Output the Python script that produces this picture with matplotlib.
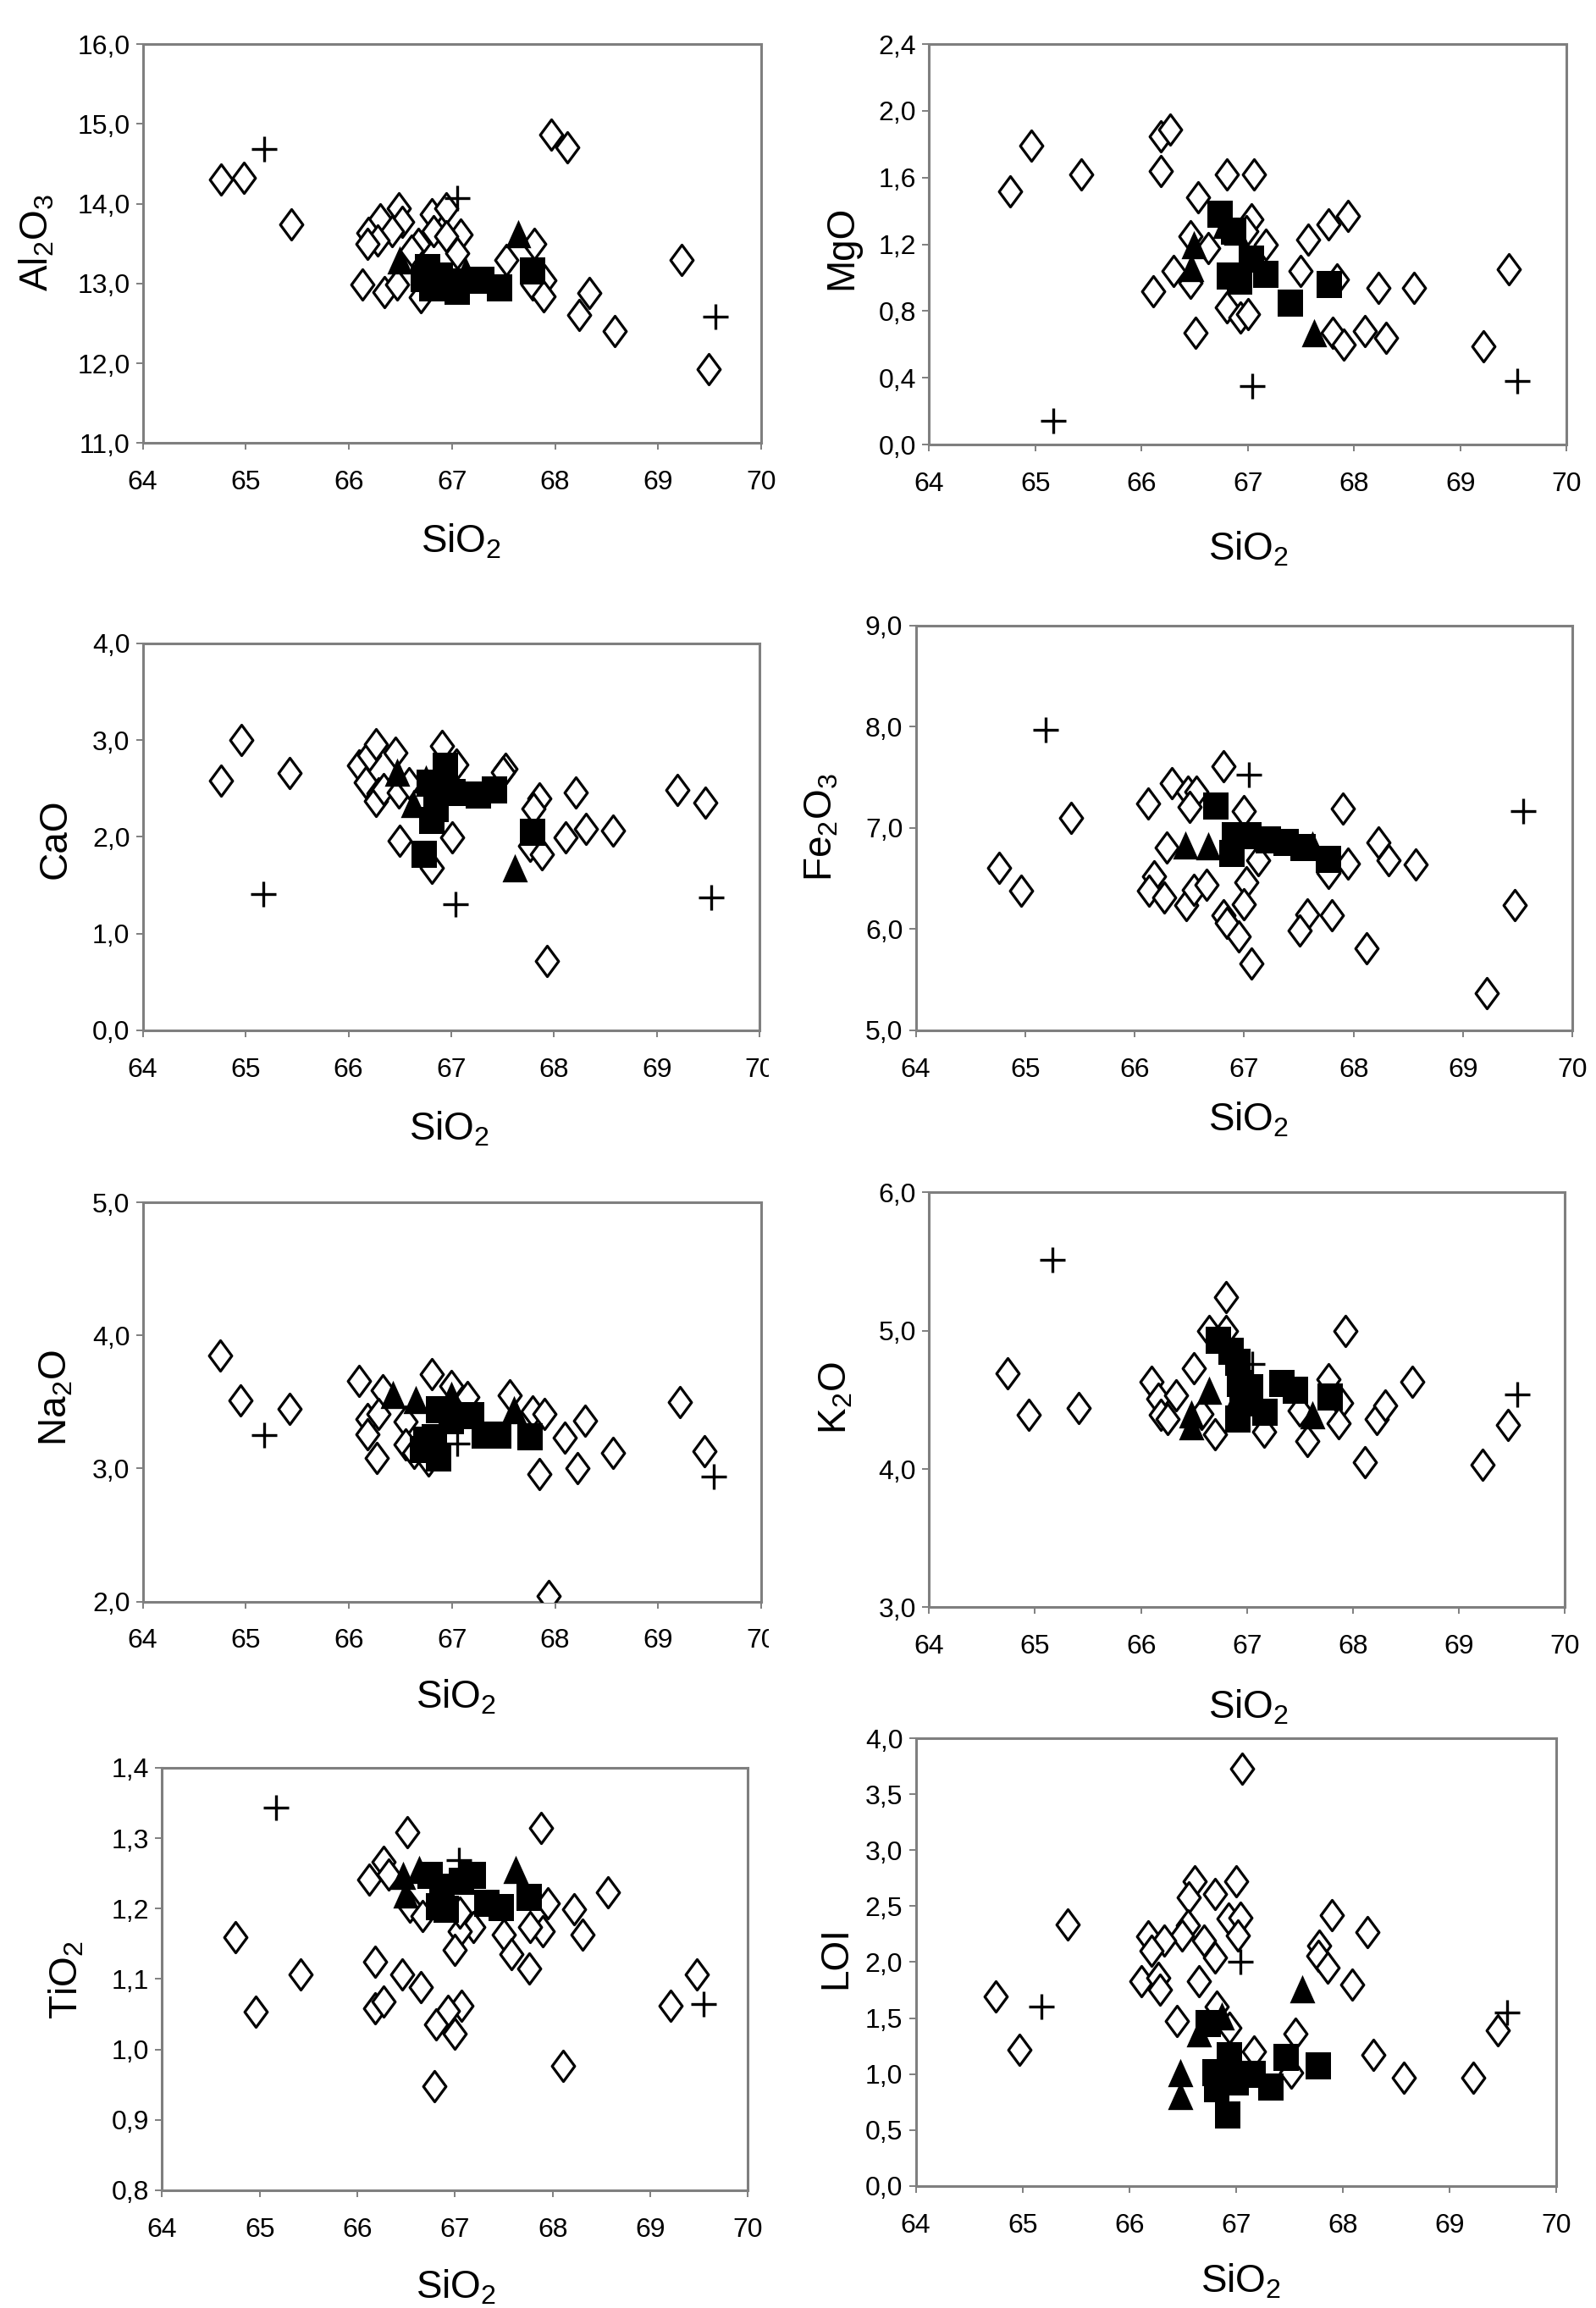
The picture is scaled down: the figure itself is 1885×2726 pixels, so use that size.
import matplotlib
matplotlib.use("Agg")
import matplotlib.pyplot as plt
from matplotlib.path import Path
from matplotlib.ticker import FuncFormatter, MultipleLocator
from matplotlib.transforms import Bbox

plt.rcParams['font.family'] = ['Liberation Sans', 'DejaVu Sans']
plt.rcParams['mathtext.default'] = 'regular'

# ---------------- data (SiO2 vs oxide) ----------------
# Al2O3
al_open_x = [64.76, 64.98, 65.44, 67.96, 68.12, 69.23, 69.49, 66.13, 66.34, 66.47, 66.70, 66.48, 66.30, 66.52, 66.42, 66.19, 66.28, 66.18, 66.80, 66.94, 66.82, 66.67, 66.61, 67.08, 66.94, 67.05, 67.80, 67.53, 67.90, 67.78, 67.89, 68.33, 68.23, 68.58]
al_open_y = [14.30, 14.33, 13.74, 14.87, 14.71, 13.30, 11.93, 12.99, 12.89, 12.99, 12.83, 13.94, 13.80, 13.77, 13.66, 13.64, 13.54, 13.50, 13.87, 13.94, 13.66, 13.50, 13.41, 13.61, 13.59, 13.38, 13.50, 13.30, 13.04, 12.99, 12.84, 12.88, 12.61, 12.40]
al_plus_x = [65.18, 67.05, 69.56]
al_plus_y = [14.69, 14.07, 12.58]
al_tri_x = [66.49, 67.64, 67.13]
al_tri_y = [13.30, 13.62, 13.16]
al_sq_x = [66.76, 66.89, 67.05, 67.05, 66.80, 67.29, 67.46, 67.78, 66.72]
al_sq_y = [13.20, 13.09, 13.02, 12.90, 12.95, 13.04, 12.95, 13.16, 13.06]

# MgO
mg_open_x = [64.76, 64.96, 65.43, 66.18, 66.27, 66.18, 66.80, 67.06, 66.53, 66.46, 67.03, 66.99, 67.17, 66.63, 67.57, 67.76, 67.94, 66.30, 66.46, 66.11, 67.50, 67.84, 68.23, 68.56, 69.46, 66.80, 66.93, 67.00, 66.51, 67.80, 67.90, 68.10, 68.30, 69.22]
mg_open_y = [1.52, 1.79, 1.62, 1.85, 1.89, 1.64, 1.62, 1.62, 1.48, 1.25, 1.35, 1.28, 1.20, 1.18, 1.23, 1.32, 1.37, 1.04, 0.97, 0.92, 1.04, 0.99, 0.94, 0.94, 1.05, 0.82, 0.76, 0.78, 0.67, 0.67, 0.60, 0.68, 0.64, 0.59]
mg_plus_x = [65.17, 67.04, 69.54]
mg_plus_y = [0.14, 0.35, 0.38]
mg_tri_x = [66.49, 66.47, 66.79, 66.89, 67.62]
mg_tri_y = [1.20, 1.06, 1.32, 1.28, 0.67]
mg_sq_x = [66.74, 66.87, 67.03, 66.83, 66.92, 67.17, 67.40, 67.77]
mg_sq_y = [1.38, 1.28, 1.11, 1.01, 0.98, 1.02, 0.85, 0.96]

# CaO
ca_open_x = [64.76, 64.96, 65.43, 66.10, 66.20, 66.27, 66.46, 66.17, 66.29, 66.27, 66.34, 66.49, 66.50, 66.81, 66.91, 67.05, 67.01, 67.53, 67.50, 67.86, 67.80, 68.21, 68.31, 68.11, 68.57, 67.77, 67.88, 67.93, 69.20, 69.47, 66.59]
ca_open_y = [2.58, 3.00, 2.66, 2.74, 2.84, 2.96, 2.87, 2.56, 2.45, 2.37, 2.49, 2.46, 1.96, 1.68, 2.94, 2.75, 1.99, 2.70, 2.67, 2.40, 2.29, 2.46, 2.08, 1.99, 2.06, 1.91, 1.82, 0.72, 2.48, 2.35, 2.55]
ca_plus_x = [65.17, 67.04, 69.53]
ca_plus_y = [1.41, 1.30, 1.37]
ca_tri_x = [66.47, 66.63, 67.62, 66.75]
ca_tri_y = [2.67, 2.34, 1.68, 2.60]
ca_sq_x = [66.94, 66.79, 66.85, 66.81, 67.02, 67.26, 67.42, 66.74, 67.79]
ca_sq_y = [2.73, 2.55, 2.29, 2.17, 2.46, 2.43, 2.48, 1.82, 2.05]

# Fe2O3
fe_open_x = [64.76, 64.96, 65.42, 66.12, 66.34, 66.49, 66.56, 66.81, 66.50, 66.29, 67.00, 67.90, 68.23, 68.32, 68.57, 67.95, 67.77, 66.18, 66.13, 66.27, 66.47, 66.54, 66.66, 67.02, 67.00, 66.81, 66.84, 66.95, 67.07, 67.58, 67.51, 67.80, 68.12, 69.47, 69.22, 67.13]
fe_open_y = [6.61, 6.38, 7.10, 7.24, 7.44, 7.36, 7.36, 7.61, 7.21, 6.81, 7.17, 7.19, 6.86, 6.68, 6.64, 6.65, 6.56, 6.52, 6.38, 6.31, 6.24, 6.39, 6.44, 6.46, 6.25, 6.14, 6.06, 5.93, 5.66, 6.15, 5.99, 6.14, 5.81, 6.24, 5.37, 6.68]
fe_plus_x = [65.19, 67.04, 69.55]
fe_plus_y = [7.97, 7.53, 7.17]
fe_tri_x = [66.46, 66.67, 67.62]
fe_tri_y = [6.83, 6.82, 6.83]
fe_sq_x = [66.74, 66.91, 67.04, 66.89, 67.22, 67.38, 67.54, 67.77]
fe_sq_y = [7.22, 6.92, 6.92, 6.75, 6.88, 6.86, 6.81, 6.69]

# Na2O
na_open_x = [64.75, 64.95, 65.42, 66.10, 66.33, 66.80, 66.99, 67.15, 67.56, 67.78, 67.90, 66.18, 66.29, 66.18, 66.55, 66.27, 66.55, 66.77, 68.29, 68.09, 68.56, 67.85, 68.22, 69.21, 69.45, 67.94, 66.63]
na_open_y = [3.85, 3.51, 3.45, 3.66, 3.59, 3.71, 3.62, 3.54, 3.55, 3.43, 3.41, 3.37, 3.41, 3.26, 3.35, 3.08, 3.18, 3.06, 3.36, 3.23, 3.12, 2.96, 3.00, 3.50, 3.13, 2.04, 3.12]
na_plus_x = [65.18, 67.05, 69.54]
na_plus_y = [3.25, 3.19, 2.94]
na_tri_x = [66.43, 66.65, 67.60, 66.99]
na_tri_y = [3.56, 3.52, 3.44, 3.55]
na_sq_x = [66.87, 66.99, 66.83, 66.87, 66.71, 67.19, 67.31, 67.45, 67.76, 66.75]
na_sq_y = [3.44, 3.36, 3.23, 3.08, 3.14, 3.40, 3.25, 3.25, 3.24, 3.21]

# K2O
k_open_x = [64.74, 64.94, 65.41, 66.10, 66.16, 66.19, 66.25, 66.33, 66.50, 66.64, 66.80, 66.80, 66.57, 66.70, 67.16, 67.50, 67.57, 67.77, 67.93, 67.89, 67.86, 68.22, 68.30, 68.11, 68.56, 69.22, 69.46]
k_open_y = [4.69, 4.39, 4.44, 4.63, 4.51, 4.39, 4.36, 4.53, 4.73, 5.00, 5.24, 5.00, 4.40, 4.25, 4.27, 4.42, 4.20, 4.65, 5.00, 4.48, 4.33, 4.36, 4.46, 4.05, 4.63, 4.03, 4.32]
k_plus_x = [65.16, 67.05, 69.55]
k_plus_y = [5.51, 4.76, 4.54]
k_tri_x = [66.64, 66.47, 66.47, 67.62, 66.93]
k_tri_y = [4.57, 4.40, 4.31, 4.39, 4.56]
k_sq_x = [66.73, 66.85, 66.91, 66.93, 67.03, 66.91, 67.17, 67.33, 67.46, 67.78, 66.95]
k_sq_y = [4.93, 4.85, 4.77, 4.62, 4.59, 4.36, 4.41, 4.62, 4.57, 4.52, 4.48]

# TiO2
ti_open_x = [64.75, 64.96, 65.42, 66.12, 66.27, 66.32, 66.51, 67.88, 68.57, 67.95, 68.22, 68.31, 67.90, 67.77, 67.50, 67.58, 67.76, 67.19, 67.05, 67.00, 67.05, 66.54, 66.67, 66.18, 66.46, 66.65, 66.18, 66.27, 67.07, 66.93, 66.81, 67.00, 68.11, 66.79, 69.48, 69.21]
ti_open_y = [1.160, 1.054, 1.107, 1.241, 1.267, 1.248, 1.308, 1.315, 1.223, 1.208, 1.199, 1.163, 1.168, 1.174, 1.163, 1.135, 1.115, 1.174, 1.168, 1.141, 1.194, 1.203, 1.190, 1.124, 1.107, 1.089, 1.059, 1.068, 1.062, 1.055, 1.036, 1.022, 0.977, 0.948, 1.107, 1.062]
ti_plus_x = [65.17, 67.04, 69.55]
ti_plus_y = [1.343, 1.269, 1.064]
ti_tri_x = [66.47, 66.63, 66.49, 67.62]
ti_tri_y = [1.247, 1.256, 1.221, 1.256]
ti_sq_x = [66.75, 66.87, 66.83, 67.07, 67.19, 67.33, 67.47, 67.76, 66.91]
ti_sq_y = [1.247, 1.230, 1.203, 1.239, 1.247, 1.208, 1.201, 1.216, 1.199]

# LOI
loi_open_x = [64.75, 64.97, 65.42, 67.06, 66.61, 67.00, 66.80, 66.56, 66.55, 66.93, 67.04, 67.02, 66.49, 66.18, 66.33, 66.21, 66.70, 66.80, 66.11, 66.27, 66.29, 66.65, 67.90, 68.23, 67.78, 67.77, 67.86, 68.09, 66.45, 66.82, 66.94, 67.56, 67.17, 68.29, 68.57, 69.22, 69.45, 67.52]
loi_open_y = [1.69, 1.22, 2.34, 3.73, 2.72, 2.72, 2.61, 2.58, 2.33, 2.39, 2.40, 2.24, 2.24, 2.23, 2.19, 2.10, 2.19, 2.04, 1.83, 1.86, 1.75, 1.83, 2.42, 2.27, 2.15, 2.06, 1.95, 1.80, 1.47, 1.60, 1.41, 1.36, 1.20, 1.17, 0.97, 0.97, 1.39, 1.01]
loi_plus_x = [65.18, 67.04, 69.54]
loi_plus_y = [1.60, 2.00, 1.55]
loi_tri_x = [66.65, 66.87, 66.48, 66.48, 67.62]
loi_tri_y = [1.37, 1.52, 1.01, 0.81, 1.76]
loi_sq_x = [66.74, 66.80, 66.82, 66.92, 66.94, 67.16, 67.33, 67.47, 67.77, 67.00]
loi_sq_y = [1.45, 1.01, 0.87, 0.63, 1.16, 1.00, 0.88, 1.15, 1.07, 0.93]

x_ticks = [64, 65, 66, 67, 68, 69, 70]

# ---------------- figure ----------------
W, H = 1885, 2726
fig = plt.figure(figsize=(W / 100, H / 100), dpi=100)
SW, SH = 1084.0, 1568.0  # layout measured on the reduced view


def box(l, t, r, b):
    return [l / SW, 1 - b / SH, (r - l) / SW, (b - t) / SH]


diamond = Path([(0, 1), (0.74, 0), (0, -1), (-0.74, 0), (0, 1)],
               [Path.MOVETO, Path.LINETO, Path.LINETO, Path.LINETO, Path.CLOSEPOLY])
square = Path([(-0.92, -1), (0.92, -1), (0.92, 1), (-0.92, 1), (-0.92, -1)],
              [Path.MOVETO, Path.LINETO, Path.LINETO, Path.LINETO, Path.CLOSEPOLY])
triangle = Path([(0, 1), (0.9, -1), (-0.9, -1), (0, 1)],
                [Path.MOVETO, Path.LINETO, Path.LINETO, Path.CLOSEPOLY])

fmt = FuncFormatter(lambda v, p: f"{v:.1f}".replace('.', ','))
GRAY = '#7f7f7f'

panels = [
    dict(rect=box(97, 30, 517, 301), ylim=(11, 16), step=1.0, ylabel=r'Al$_2$O$_3$',
         ylab=(25, 165), xlab=(313, 368),
         data=(al_open_x, al_open_y, al_plus_x, al_plus_y, al_tri_x, al_tri_y, al_sq_x, al_sq_y)),
    dict(rect=box(631, 30, 1064, 302), ylim=(0, 2.4), step=0.4, ylabel='MgO',
         ylab=(572, 168), xlab=(848, 373),
         data=(mg_open_x, mg_open_y, mg_plus_x, mg_plus_y, mg_tri_x, mg_tri_y, mg_sq_x, mg_sq_y)),
    dict(rect=box(97, 437, 516, 700), ylim=(0, 4), step=1.0, ylabel='CaO',
         ylab=(38, 570), xlab=(305, 767), clip70=True,
         data=(ca_open_x, ca_open_y, ca_plus_x, ca_plus_y, ca_tri_x, ca_tri_y, ca_sq_x, ca_sq_y)),
    dict(rect=box(622, 425, 1068, 700), ylim=(5, 9), step=1.0, ylabel=r'Fe$_2$O$_3$',
         ylab=(558, 562), xlab=(848, 761),
         data=(fe_open_x, fe_open_y, fe_plus_x, fe_plus_y, fe_tri_x, fe_tri_y, fe_sq_x, fe_sq_y)),
    dict(rect=box(97, 817, 517, 1088), ylim=(2, 5), step=1.0, ylabel=r'Na$_2$O',
         ylab=(38, 950), xlab=(310, 1153), clip70=True,
         data=(na_open_x, na_open_y, na_plus_x, na_plus_y, na_tri_x, na_tri_y, na_sq_x, na_sq_y)),
    dict(rect=box(631, 810, 1063, 1092), ylim=(3, 6), step=1.0, ylabel=r'K$_2$O',
         ylab=(568, 950), xlab=(848, 1160),
         data=(k_open_x, k_open_y, k_plus_x, k_plus_y, k_tri_x, k_tri_y, k_sq_x, k_sq_y)),
    dict(rect=box(110, 1201, 508, 1488), ylim=(0.8, 1.4), step=0.1, ylabel=r'TiO$_2$',
         ylab=(45, 1345), xlab=(310, 1554),
         data=(ti_open_x, ti_open_y, ti_plus_x, ti_plus_y, ti_tri_x, ti_tri_y, ti_sq_x, ti_sq_y)),
    dict(rect=box(622, 1181, 1057, 1485), ylim=(0, 4), step=0.5, ylabel='LOI',
         ylab=(568, 1330), xlab=(843, 1550),
         data=(loi_open_x, loi_open_y, loi_plus_x, loi_plus_y, loi_tri_x, loi_tri_y, loi_sq_x, loi_sq_y)),
]

for p in panels:
    ax = fig.add_axes(p['rect'])
    ox, oy, px, py, tx, ty, sx, sy = p['data']
    ax.plot(ox, oy, linestyle='none', marker=diamond, markersize=26,
            markerfacecolor='white', markeredgecolor='black', markeredgewidth=2.3, zorder=3)
    ax.plot(px, py, linestyle='none', marker='+', markersize=22,
            markeredgecolor='black', markeredgewidth=2.4, zorder=4)
    ax.plot(tx, ty, linestyle='none', marker=triangle, markersize=24,
            color='black', markeredgewidth=0, zorder=5)
    ax.plot(sx, sy, linestyle='none', marker=square, markersize=23,
            color='black', markeredgewidth=0, zorder=6)

    ax.set_xlim(64, 70)
    ax.set_ylim(*p['ylim'])
    ax.set_xticks(x_ticks)
    ax.yaxis.set_major_locator(MultipleLocator(p['step']))
    ax.yaxis.set_major_formatter(fmt)
    for s in ax.spines.values():
        s.set_color(GRAY)
        s.set_linewidth(2.2)
    ax.tick_params(axis='both', direction='out', length=6, width=1.4, color=GRAY,
                   labelsize=23, labelcolor='black')
    ax.tick_params(axis='x', pad=17)
    ax.tick_params(axis='y', pad=5)

    fig.text(p['ylab'][0] / SW, 1 - p['ylab'][1] / SH, p['ylabel'], rotation=90,
             ha='center', va='center', fontsize=33)
    fig.text(p['xlab'][0] / SW, 1 - p['xlab'][1] / SH, r'SiO$_2$',
             ha='center', va='center', fontsize=33)

    if p.get('clip70'):
        lab = ax.get_xticklabels()[-1]
        cut = Bbox.from_extents(0, 0, 522 / SW * W, H)
        lab.set_clip_box(cut)
        lab.set_clip_on(True)

fig.savefig('out.png', dpi=100, facecolor='white')
